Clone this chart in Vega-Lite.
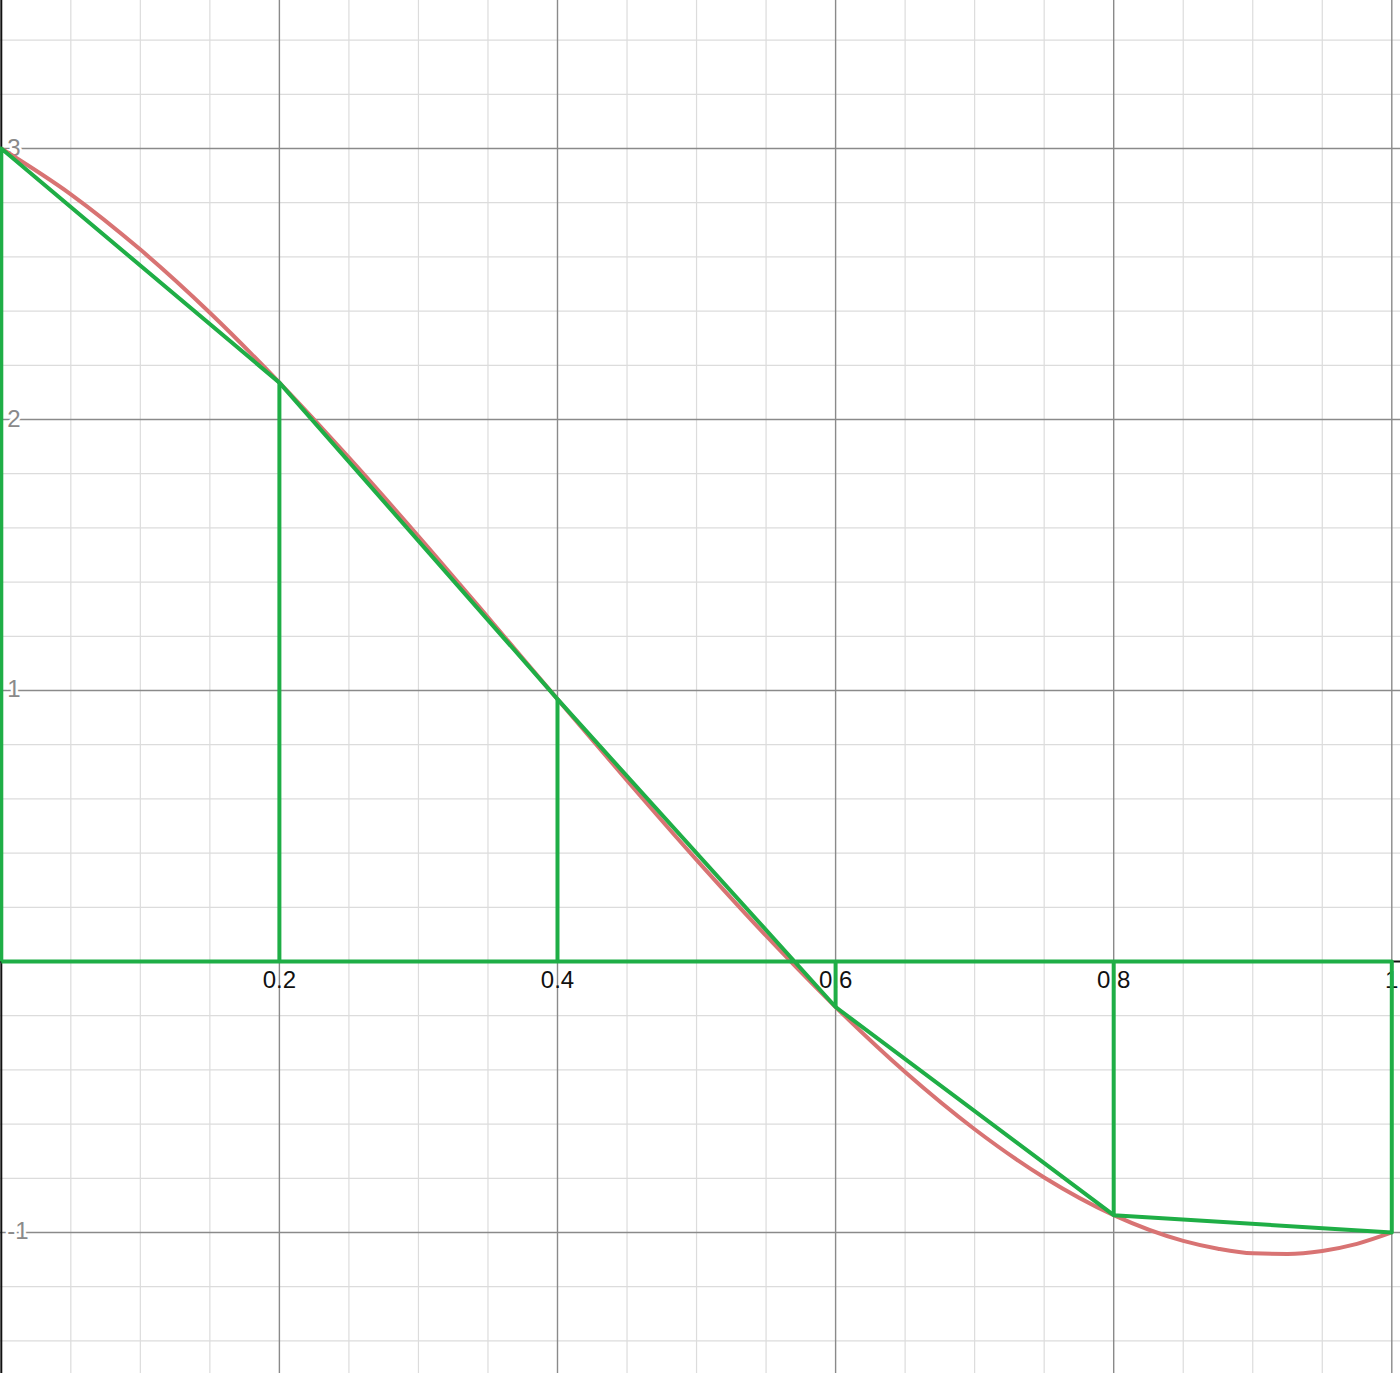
{
  "$schema": "https://vega.github.io/schema/vega-lite/v6.json",
  "width": 1400,
  "height": 1373,
  "autosize": {"type": "fit", "contains": "padding"},
  "padding": 0,
  "background": "white",
  "config": {"view": {"stroke": null}, "axis": {"disable": true}},
  "datasets": {
    "xgrid": [
      {"x": 0.05, "kind": "minor"}, {"x": 0.1, "kind": "minor"}, {"x": 0.15, "kind": "minor"},
      {"x": 0.25, "kind": "minor"}, {"x": 0.3, "kind": "minor"}, {"x": 0.35, "kind": "minor"},
      {"x": 0.45, "kind": "minor"}, {"x": 0.5, "kind": "minor"}, {"x": 0.55, "kind": "minor"},
      {"x": 0.65, "kind": "minor"}, {"x": 0.7, "kind": "minor"}, {"x": 0.75, "kind": "minor"},
      {"x": 0.85, "kind": "minor"}, {"x": 0.9, "kind": "minor"}, {"x": 0.95, "kind": "minor"},
      {"x": 0.2, "kind": "major"}, {"x": 0.4, "kind": "major"}, {"x": 0.6, "kind": "major"},
      {"x": 0.8, "kind": "major"}, {"x": 1.0, "kind": "major"}
    ],
    "ygrid": [
      {"y": -1.4, "kind": "minor"}, {"y": -1.2, "kind": "minor"}, {"y": -0.8, "kind": "minor"},
      {"y": -0.6, "kind": "minor"}, {"y": -0.4, "kind": "minor"}, {"y": -0.2, "kind": "minor"},
      {"y": 0.2, "kind": "minor"}, {"y": 0.4, "kind": "minor"}, {"y": 0.6, "kind": "minor"},
      {"y": 0.8, "kind": "minor"}, {"y": 1.2, "kind": "minor"}, {"y": 1.4, "kind": "minor"},
      {"y": 1.6, "kind": "minor"}, {"y": 1.8, "kind": "minor"}, {"y": 2.2, "kind": "minor"},
      {"y": 2.4, "kind": "minor"}, {"y": 2.6, "kind": "minor"}, {"y": 2.8, "kind": "minor"},
      {"y": 3.2, "kind": "minor"}, {"y": 3.4, "kind": "minor"},
      {"y": -1, "kind": "major"}, {"y": 1, "kind": "major"}, {"y": 2, "kind": "major"},
      {"y": 3, "kind": "major"}
    ],
    "xlabels": [
      {"x": 0.2, "y": 0, "label": "0.2"}, {"x": 0.4, "y": 0, "label": "0.4"}, {"x": 0.6, "y": 0, "label": "0.6"},
      {"x": 0.8, "y": 0, "label": "0.8"}, {"x": 1.0, "y": 0, "label": "1"}
    ],
    "ylabels": [
      {"x": 0, "y": 3, "label": "3"}, {"x": 0, "y": 2, "label": "2"}, {"x": 0, "y": 1, "label": "1"}, {"x": 0, "y": -1, "label": "-1"}
    ],
    "curve": [
      {"x": 0.0, "y": 3.0}, {"x": 0.05, "y": 2.831}, {"x": 0.1, "y": 2.627},
      {"x": 0.15, "y": 2.394}, {"x": 0.2, "y": 2.136}, {"x": 0.25, "y": 1.859},
      {"x": 0.3, "y": 1.569}, {"x": 0.35, "y": 1.27}, {"x": 0.4, "y": 0.968},
      {"x": 0.45, "y": 0.668}, {"x": 0.5, "y": 0.375}, {"x": 0.55, "y": 0.095},
      {"x": 0.6, "y": -0.168}, {"x": 0.65, "y": -0.408}, {"x": 0.7, "y": -0.619},
      {"x": 0.75, "y": -0.797}, {"x": 0.8, "y": -0.936}, {"x": 0.85, "y": -1.031},
      {"x": 0.875, "y": -1.06}, {"x": 0.9, "y": -1.077}, {"x": 0.925, "y": -1.079},
      {"x": 0.95, "y": -1.068}, {"x": 0.975, "y": -1.042}, {"x": 1.0, "y": -1.0}
    ],
    "outline": [
      {"i": 0, "x": 0.0, "y": 0.0}, {"i": 1, "x": 0.0, "y": 3.0}, {"i": 2, "x": 0.2, "y": 2.136},
      {"i": 3, "x": 0.4, "y": 0.968}, {"i": 4, "x": 0.6, "y": -0.168}, {"i": 5, "x": 0.8, "y": -0.936},
      {"i": 6, "x": 1.0, "y": -1.0}, {"i": 7, "x": 1.0, "y": 0.0}, {"i": 8, "x": 0.0, "y": 0.0}
    ],
    "sides": [
      {"x": 0.2, "y0": 0, "y": 2.136}, {"x": 0.4, "y0": 0, "y": 0.968},
      {"x": 0.6, "y0": 0, "y": -0.168}, {"x": 0.8, "y0": 0, "y": -0.936}
    ],
    "origin": [{"v": 0}]
  },
  "layer": [
    {
      "data": {"name": "xgrid"},
      "transform": [{"filter": "datum.kind === 'minor'"}],
      "mark": {"type": "rule", "color": "#dcdcdc", "strokeWidth": 1.2, "clip": true},
      "encoding": {
        "x": {"field": "x", "type": "quantitative", "scale": {"domain": [-0.00093, 1.0059], "nice": false, "zero": false}}
      }
    },
    {
      "data": {"name": "ygrid"},
      "transform": [{"filter": "datum.kind === 'minor'"}],
      "mark": {"type": "rule", "color": "#dcdcdc", "strokeWidth": 1.2, "clip": true},
      "encoding": {
        "y": {"field": "y", "type": "quantitative", "scale": {"domain": [-1.5185, 3.548], "nice": false, "zero": false}}
      }
    },
    {
      "data": {"name": "xgrid"},
      "transform": [{"filter": "datum.kind === 'major'"}],
      "mark": {"type": "rule", "color": "#8a8a8a", "strokeWidth": 1.4, "clip": true},
      "encoding": {
        "x": {"field": "x", "type": "quantitative"}
      }
    },
    {
      "data": {"name": "ygrid"},
      "transform": [{"filter": "datum.kind === 'major'"}],
      "mark": {"type": "rule", "color": "#8a8a8a", "strokeWidth": 1.4, "clip": true},
      "encoding": {
        "y": {"field": "y", "type": "quantitative"}
      }
    },
    {
      "data": {"name": "origin"},
      "mark": {"type": "rule", "color": "#111111", "strokeWidth": 2, "clip": true},
      "encoding": {"x": {"field": "v", "type": "quantitative"}}
    },
    {
      "data": {"name": "origin"},
      "mark": {"type": "rule", "color": "#111111", "strokeWidth": 2, "clip": true},
      "encoding": {"y": {"field": "v", "type": "quantitative"}}
    },
    {
      "data": {"name": "ylabels"},
      "mark": {"type": "text", "align": "left", "baseline": "middle", "dx": 6, "font": "Liberation Sans", "fontSize": 24, "color": "white", "stroke": "white", "strokeWidth": 5},
      "encoding": {
        "x": {"field": "x", "type": "quantitative"},
        "y": {"field": "y", "type": "quantitative"},
        "text": {"field": "label", "type": "nominal"}
      }
    },
    {
      "data": {"name": "ylabels"},
      "mark": {"type": "text", "align": "left", "baseline": "middle", "dx": 6, "font": "Liberation Sans", "fontSize": 24, "color": "#8a8a8a"},
      "encoding": {
        "x": {"field": "x", "type": "quantitative"},
        "y": {"field": "y", "type": "quantitative"},
        "text": {"field": "label", "type": "nominal"}
      }
    },
    {
      "data": {"name": "xlabels"},
      "mark": {"type": "text", "align": "center", "baseline": "top", "dy": 8, "font": "Liberation Sans", "fontSize": 24, "color": "#111111"},
      "encoding": {
        "x": {"field": "x", "type": "quantitative"},
        "y": {"field": "y", "type": "quantitative"},
        "text": {"field": "label", "type": "nominal"}
      }
    },
    {
      "data": {"name": "curve"},
      "mark": {"type": "line", "color": "#d87373", "strokeWidth": 4, "interpolate": "monotone", "clip": true},
      "encoding": {
        "x": {"field": "x", "type": "quantitative"},
        "y": {"field": "y", "type": "quantitative"}
      }
    },
    {
      "data": {"name": "sides"},
      "mark": {"type": "rule", "color": "#1fae46", "strokeWidth": 4, "clip": true},
      "encoding": {
        "x": {"field": "x", "type": "quantitative"},
        "y": {"field": "y0", "type": "quantitative"},
        "y2": {"field": "y"}
      }
    },
    {
      "data": {"name": "outline"},
      "mark": {"type": "line", "color": "#1fae46", "strokeWidth": 4, "strokeJoin": "round", "clip": true},
      "encoding": {
        "x": {"field": "x", "type": "quantitative"},
        "y": {"field": "y", "type": "quantitative"},
        "order": {"field": "i", "type": "quantitative"}
      }
    }
  ]
}
